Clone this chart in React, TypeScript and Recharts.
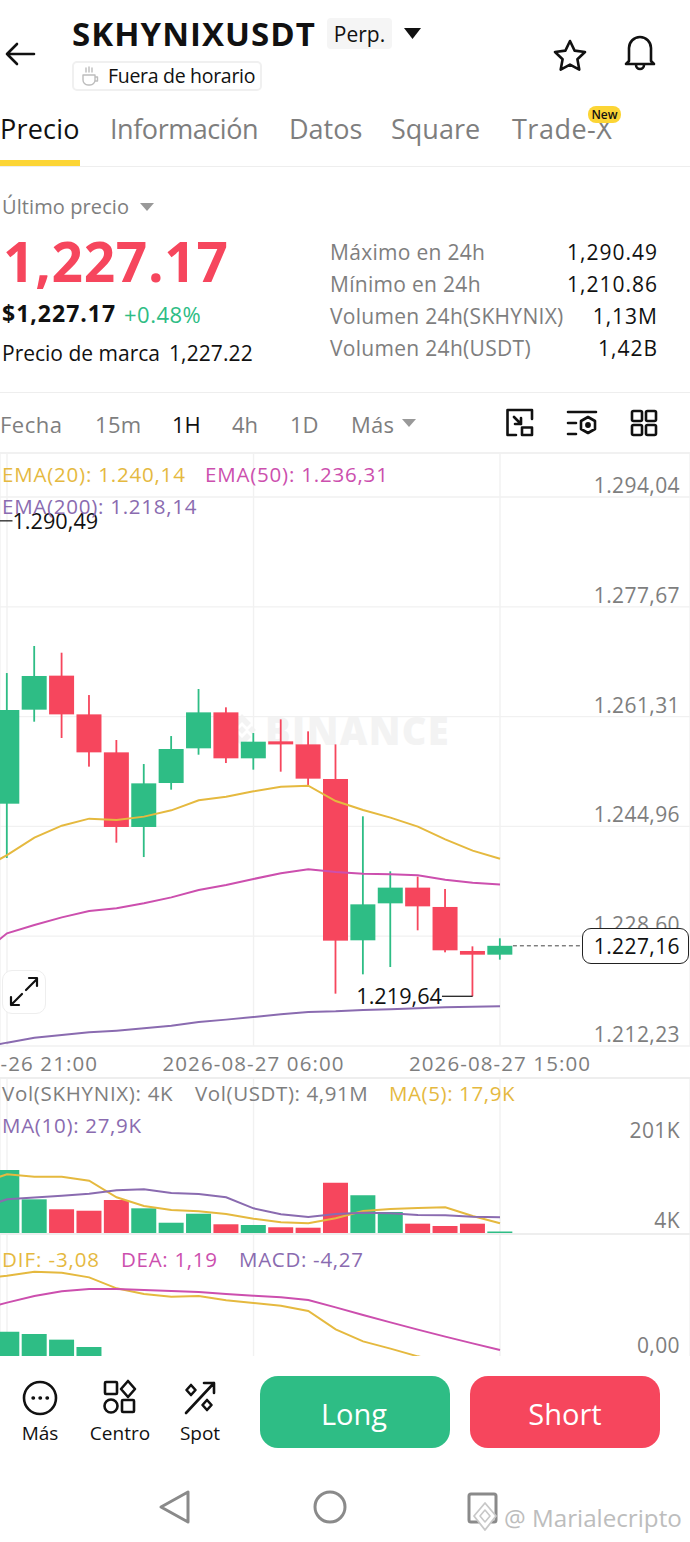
// App.tsx - SKHYNIXUSDT perp screen, candlesticks with volume and MACD panels
import React from "react";
import {
  Bar,
  CartesianGrid,
  Cell,
  ComposedChart,
  Line,
  ReferenceLine,
  XAxis,
  YAxis,
} from "recharts";

// first row sits just off the left edge of the screen
const hours = [
  "2026-08-26 20:00", "2026-08-26 21:00", "2026-08-26 22:00", "2026-08-26 23:00", "2026-08-27 00:00",
  "2026-08-27 01:00", "2026-08-27 02:00", "2026-08-27 03:00", "2026-08-27 04:00", "2026-08-27 05:00",
  "2026-08-27 06:00", "2026-08-27 07:00", "2026-08-27 08:00", "2026-08-27 09:00", "2026-08-27 10:00",
  "2026-08-27 11:00", "2026-08-27 12:00", "2026-08-27 13:00", "2026-08-27 14:00", "2026-08-27 15:00",
];
const opens = [1256, 1248.34, 1262.35, 1267.42, 1261.65, 1255.99, 1244.87, 1251.42, 1256.59, 1261.95, 1255.1, 1257.63, 1257.18, 1252.02, 1227.98, 1233.49, 1235.83, 1232.95, 1226.39, 1225.84];
const closes = [1248.3, 1262.3, 1267.37, 1261.65, 1255.99, 1244.87, 1251.37, 1256.49, 1261.95, 1255.1, 1257.58, 1257.18, 1252.07, 1227.93, 1233.34, 1235.83, 1233.04, 1226.49, 1225.84, 1227.16];
const highs = [1290.49, 1267.81, 1271.84, 1270.84, 1264.53, 1257.83, 1254.25, 1258.42, 1265.43, 1262.7, 1258.87, 1260.91, 1259.12, 1257.18, 1246.46, 1238.26, 1237.47, 1235.63, 1227.08, 1228.28];
const lows = [1244, 1240.25, 1260.56, 1258.13, 1253.86, 1242.53, 1240.39, 1250.43, 1255.64, 1254.4, 1253.41, 1253.11, 1251.02, 1220.03, 1222.91, 1224, 1229.47, 1226.19, 1219.64, 1225.1];
const ema20 = [1238.36, 1240.69, 1243.28, 1245.06, 1246.11, 1245.91, 1246.41, 1247.35, 1248.84, 1249.38, 1250.18, 1250.88, 1251.02, 1248.74, 1247.4, 1246.26, 1244.92, 1243.03, 1241.34, 1240.14];
const ema50 = [1225.7, 1229.02, 1230.26, 1231.4, 1232.35, 1232.75, 1233.49, 1234.38, 1235.48, 1236.22, 1237.12, 1237.96, 1238.56, 1238.16, 1237.91, 1237.81, 1237.66, 1237.02, 1236.57, 1236.31];
const ema200 = [1211.88, 1212.73, 1213.47, 1213.87, 1214.27, 1214.52, 1214.86, 1215.26, 1215.81, 1216.16, 1216.55, 1216.95, 1217.3, 1217.4, 1217.6, 1217.7, 1217.85, 1217.99, 1218.09, 1218.14];

const volumes = [100, 106.7, 57.8, 41.2, 38.8, 56.7, 42.8, 18.8, 33.8, 16.2, 15, 11.2, 10.5, 85.5, 64.5, 36.7, 17.2, 13.3, 17.2, 4];
const ma5 = [84.4, 99.5, 95.5, 95.5, 88.8, 61.2, 46.7, 40, 37.8, 33.3, 25.5, 19.5, 17.8, 26.2, 38.3, 41.7, 43.3, 44.5, 30, 17.9];
const ma10 = [42.8, 57.8, 61, 63.9, 67, 72.8, 74.4, 68.3, 66.7, 61.1, 42.8, 32.8, 28.3, 33.3, 35.6, 34.4, 31.7, 31.1, 28.9, 27.9];

const dif = [15.47, 16.07, 16.87, 16.67, 15.73, 13.53, 12.4, 11.87, 12, 11.13, 10.6, 10.07, 9, 5.33, 2.93, 1.47, -0.07, -1.3, -2.3, -3.08];
const dea = [9.2, 10.67, 12, 12.93, 13.4, 13.4, 13.2, 13, 12.8, 12.4, 12.07, 11.73, 11.2, 9.73, 8.2, 6.73, 5.27, 3.87, 2.53, 1.19];
const macd = [5.8, 4.87, 4.4, 3.27, 1.8, -0.1, -0.8, -1.13, -0.8, -1.27, -1.47, -1.66, -2.2, -4.4, -5.27, -5.26, -5.34, -5.17, -4.83, -4.27];

const priceTicks = [1294.04, 1277.67, 1261.31, 1244.96, 1228.6, 1212.23];
const timeTicks = [0, 9, 18];
const volumeTicks = [4, 201];
const macdTicks = [0];

const GREEN = "#2EBD85";
const RED = "#F6465D";
const YELLOW = "#E5B93F";
const PINK = "#CC4FAE";
const PURPLE = "#8A6BB0";
const GRAY = "#7E7E7E";
const GRID = "#F1F1F1";
const FONT = "'Open Sans', sans-serif";
const X_DOMAIN = [-0.2556, 24.936];

const rows = hours.map((hour, i) => ({
  idx: i - 1,
  hour,
  open: opens[i],
  close: closes[i],
  high: highs[i],
  low: lows[i],
  range: [lows[i], highs[i]],
  ema20: ema20[i],
  ema50: ema50[i],
  ema200: ema200[i],
  volume: volumes[i],
  ma5: ma5[i],
  ma10: ma10[i],
  dif: dif[i],
  dea: dea[i],
  macd: macd[i],
}));

const es = (v: number) =>
  v.toLocaleString("es-ES", { minimumFractionDigits: 2, maximumFractionDigits: 2, useGrouping: "always" } as any);

// wick + body, price to pixel comes from the y/height recharts gives the range
function Candle(props: any) {
  const { x, y, width, height, payload } = props;
  const { open, close, high, low } = payload;
  const toY = (p: number) => y + ((high - p) / (high - low)) * height;
  const color = close >= open ? GREEN : RED;
  const top = toY(Math.max(open, close));
  const bottom = toY(Math.min(open, close));
  const mid = x + width / 2;
  return (
    <g>
      <rect x={mid - 0.9} y={y} width={1.8} height={height} fill={color} />
      <rect x={x} y={top} width={width} height={Math.max(bottom - top, 1)} fill={color} />
    </g>
  );
}

const axisTick = (format: (v: number) => string, dyFor: (v: number) => number) => (props: any) => {
  const v = props.payload.value;
  return (
    <text x={680} y={props.y + dyFor(v)} textAnchor="end" dominantBaseline="central" fill={GRAY} fontSize={21} fontFamily={FONT} letterSpacing={0.4}>
      {format(v)}
    </text>
  );
};

const TimeTick = (props: any) => (
  <text x={props.x} y={props.y + 9} textAnchor="middle" dominantBaseline="central" fill={GRAY} fontSize={20.5} fontFamily={FONT} letterSpacing={1.1}>
    {hours[props.payload.value + 1]}
  </text>
);

function T({ x, y, size, color = "#111", weight = 400, right, center, spacing = 0, children }: any) {
  const style: React.CSSProperties = {
    position: "absolute",
    top: y,
    fontSize: size,
    color,
    fontWeight: weight,
    letterSpacing: spacing,
    whiteSpace: "nowrap",
    lineHeight: 1,
    transform: center ? "translate(-50%,-50%)" : "translateY(-50%)",
  };
  if (right) style.right = 690 - x;
  else style.left = x;
  return <span style={style}>{children}</span>;
}

const Box = ({ x, y, w, h, ...rest }: any) => (
  <div style={{ position: "absolute", left: x, top: y, width: w, height: h, boxSizing: "border-box", ...rest }} />
);

const Icon = ({ x, y, w = 40, h = 40, children }: any) => (
  <svg style={{ position: "absolute", left: x, top: y }} width={w} height={h} viewBox={`0 0 ${w} ${h}`} fill="none" stroke="#111" strokeWidth={2.6} strokeLinejoin="round" strokeLinecap="round">
    {children}
  </svg>
);

function Header() {
  return (
    <>
      <Icon x={2} y={36}>
        <path d="M32 18H5M15 8L5 18l10 10" />
      </Icon>
      <T x={72} y={33} size={33} weight={700} spacing={1.05}>SKHYNIXUSDT</T>
      <Box x={327} y={18} w={65} h={31} background="#F5F5F5" borderRadius={4} />
      <T x={359.5} y={34} size={21} center>Perp.</T>
      <Icon x={400} y={24} w={24} h={20}>
        <path d="M4 4h17l-8.5 11z" fill="#111" stroke="none" />
      </Icon>
      <Box x={72} y={61} w={190} h={30} border="2px solid #F0F0F0" borderRadius={5} />
      <Icon x={78} y={64} w={24} h={24}>
        <path d="M5 11h12v5a5 5 0 0 1-5 5h-2a5 5 0 0 1-5-5zM17 13h2.5v4H17M8 8V4M11 8V3M14 8V4" stroke="#BDBDBD" strokeWidth={1.4} />
      </Icon>
      <T x={108} y={76} size={19.5} spacing={-0.3}>Fuera de horario</T>
      <Icon x={550} y={36}>
        <path d="M20 5l4.6 9.6 10.4 1.4-7.6 7.2 1.9 10.4L20 28.6l-9.3 5 1.9-10.4L5 16l10.4-1.4z" />
      </Icon>
      <Icon x={620} y={33}>
        <path d="M9 28V15a11 11 0 0 1 22 0v13l3 3H6zM16 32a4 4 0 0 0 8 0" />
      </Icon>

      <T x={0} y={128} size={27} weight={500} spacing={0.2}>Precio</T>
      <T x={110} y={128} size={27} weight={500} spacing={-0.45} color={GRAY}>Información</T>
      <T x={289} y={128} size={27} weight={500} color={GRAY}>Datos</T>
      <T x={391} y={128} size={27} weight={500} color={GRAY}>Square</T>
      <T x={512} y={128} size={27} weight={500} spacing={0.5} color={GRAY}>Trade-X</T>
      <Box x={588} y={106} w={33} h={17} background="#FCD535" borderRadius={8} />
      <T x={604.5} y={115} size={12} center weight={600}>New</T>
      <Box x={0} y={160} w={80} h={6} background="#FCD535" />
      <Box x={0} y={166} w={690} h={1} background="#EEEEEE" />

      <T x={2} y={207} size={20} spacing={0.1} color={GRAY}>Último precio</T>
      <Icon x={138} y={200} w={18} h={14}>
        <path d="M2 3h14l-7 8z" fill="#999" stroke="none" />
      </Icon>
      <T x={3} y={260} size={55} weight={700} spacing={0.7} color={RED}>1,227.17</T>
      <T x={2} y={313} size={23} weight={700} spacing={1}>$1,227.17</T>
      <T x={124} y={314} size={22} spacing={0.5} color={GREEN}>+0.48%</T>
      <T x={2} y={353} size={21}>Precio de marca</T>
      <T x={169} y={353} size={21} spacing={0.1}>1,227.22</T>

      {[["Máximo en 24h", "1,290.49", 252], ["Mínimo en 24h", "1,210.86", 284], ["Volumen 24h(SKHYNIX)", "1,13M", 316], ["Volumen 24h(USDT)", "1,42B", 348]].map(([label, value, y]) => (
        <React.Fragment key={label as string}>
          <T x={330} y={y} size={21} spacing={0.3} color={GRAY}>{label}</T>
          <T x={658} y={y} size={21} spacing={1} right>{value}</T>
        </React.Fragment>
      ))}
      <Box x={0} y={392} w={690} h={1} background="#EEEEEE" />

      <T x={0} y={424} size={22} spacing={0.5} color={GRAY}>Fecha</T>
      <T x={95} y={424} size={22} spacing={0.3} color={GRAY}>15m</T>
      <T x={172} y={424} size={22} weight={500}>1H</T>
      <T x={232} y={424} size={22} color={GRAY}>4h</T>
      <T x={290} y={424} size={22} color={GRAY}>1D</T>
      <T x={351} y={424} size={22} spacing={0.3} color={GRAY}>Más</T>
      <Icon x={400} y={416} w={18} h={14}>
        <path d="M2 3h14l-7 8z" fill="#999" stroke="none" />
      </Icon>
      <Icon x={505} y={408} w={30} h={30}>
        <path d="M11 27H2.5V2H27V11M17 19.5h10V27H17zM9 9l7 7M16 10v6h-6" />
      </Icon>
      <Icon x={566} y={408} w={32} h={30}>
        <path d="M2 4h28M2 15h8M2 26h8M22 9l7 4v8l-7 4-7-4v-8z" />
        <circle cx={22} cy={17} r={1.6} fill="#111" />
      </Icon>
      <Icon x={629} y={408} w={30} h={30}>
        <rect x={3} y={3} width={10} height={10} rx={1.5} />
        <rect x={17} y={3} width={10} height={10} rx={1.5} />
        <rect x={3} y={17} width={10} height={10} rx={1.5} />
        <rect x={17} y={17} width={10} height={10} rx={1.5} />
      </Icon>
      <Box x={0} y={452} w={690} h={2} background={GRID} />
    </>
  );
}

function Footer() {
  return (
    <>
      <Box x={0} y={1356} w={690} h={186} background="#FFF" />
      <Icon x={20} y={1378}>
        <circle cx={20} cy={20} r={16} />
        <path d="M13 20h.5M20 20h.5M27 20h.5" strokeWidth={3.4} />
      </Icon>
      <T x={40} y={1433} size={19} center>Más</T>
      <Icon x={100} y={1378}>
        <rect x={5} y={4} width={12} height={12} rx={1} />
        <path d="M28 3l7 8-7 8-7-8z" />
        <circle cx={11} cy={28} r={6.5} />
        <rect x={22} y={22} width={12} height={12} rx={1} />
      </Icon>
      <T x={120} y={1433} size={19} center>Centro</T>
      <Icon x={180} y={1378}>
        <path d="M6 35L34 5M24 5h10v10M11 7l4.5 5-4.5 5-4.5-5zM27 22l4.5 5-4.5 5-4.5-5z" />
      </Icon>
      <T x={200} y={1433} size={19} center>Spot</T>

      <Box x={260} y={1376} w={190} h={72} background={GREEN} borderRadius={18} />
      <T x={354} y={1413} size={29} weight={500} color="#FFF" center>Long</T>
      <Box x={470} y={1376} w={190} h={72} background={RED} borderRadius={18} />
      <T x={565} y={1413} size={29} weight={500} color="#FFF" center>Short</T>

      <Icon x={156} y={1487}>
        <path d="M32 5v30L5 20z" stroke="#8A8A8A" strokeWidth={3} />
      </Icon>
      <Icon x={310} y={1487}>
        <circle cx={20} cy={20} r={15} stroke="#8A8A8A" strokeWidth={3} />
      </Icon>
      <Icon x={462} y={1487} w={40} h={40}>
        <rect x={7} y={7} width={27} height={28} rx={2} stroke="#8A8A8A" strokeWidth={3} />
      </Icon>
      <Icon x={472} y={1500} w={30} h={34}>
        <path d="M13 3l11 13-11 14L2 16z" stroke="#C8C8C8" strokeWidth={1.8} fill="#FFF" />
        <path d="M13 10l5 6-5 6-5-6z" stroke="#C8C8C8" strokeWidth={1.6} />
      </Icon>
      <T x={504} y={1518} size={24.2} color="#BDBDBD">@ Marialecripto</T>
    </>
  );
}

function PriceChart() {
  return (
    <div style={{ position: "absolute", left: 0, top: 453 }}>
      <ComposedChart width={690} height={624} data={rows} margin={{ top: 0, right: 0, bottom: 0, left: 0 }}>
        <CartesianGrid stroke={GRID} strokeWidth={1.4} />
        <XAxis
          dataKey="idx"
          type="number"
          domain={X_DOMAIN}
          allowDataOverflow
          ticks={timeTicks}
          height={31}
          axisLine={false}
          tickLine={false}
          interval={0}
          tick={TimeTick}
        />
        <YAxis
          orientation="right"
          mirror
          width={100}
          domain={[1212.23, 1300.6]}
          allowDataOverflow
          ticks={priceTicks}
          interval={0}
          axisLine={false}
          tickLine={false}
          tick={axisTick(es, () => -12)}
        />
        <Bar dataKey="range" barSize={25} shape={Candle} isAnimationActive={false} />
        <Line dataKey="ema20" stroke={YELLOW} strokeWidth={2} dot={false} isAnimationActive={false} />
        <Line dataKey="ema50" stroke={PINK} strokeWidth={2} dot={false} isAnimationActive={false} />
        <Line dataKey="ema200" stroke={PURPLE} strokeWidth={2} dot={false} isAnimationActive={false} />
        <ReferenceLine
          segment={[{ x: 15.88, y: lows[18] }, { x: 17, y: lows[18] }]}
          stroke="#111"
          strokeWidth={1.2}
          label={{ value: es(lows[18]), position: "left", offset: 0, fill: "#111", fontSize: 21.7, fontFamily: FONT }}
        />
        <ReferenceLine
          segment={[{ x: X_DOMAIN[0], y: highs[0] }, { x: 0.2, y: highs[0] }]}
          stroke="#111"
          strokeWidth={1.2}
          label={{ value: es(highs[0]), position: "right", offset: 0, fill: "#111", fontSize: 21.7, fontFamily: FONT }}
        />
        <ReferenceLine
          segment={[{ x: 18.47, y: closes[19] }, { x: 21, y: closes[19] }]}
          stroke="#444"
          strokeWidth={1}
          strokeDasharray="4 3"
        />
      </ComposedChart>
    </div>
  );
}

function VolumeChart() {
  return (
    <div style={{ position: "absolute", left: 0, top: 1078 }}>
      <ComposedChart width={690} height={156} data={rows} margin={{ top: 0, right: 0, bottom: 0, left: 0 }}>
        <CartesianGrid stroke={GRID} strokeWidth={1.4} horizontal={false} />
        <XAxis dataKey="idx" type="number" domain={X_DOMAIN} allowDataOverflow ticks={timeTicks} hide />
        <YAxis
          orientation="right"
          mirror
          width={100}
          domain={[0, 260]}
          ticks={volumeTicks}
          interval={0}
          axisLine={false}
          tickLine={false}
          tick={axisTick((v) => `${v}K`, (v) => (v === 201 ? 17 : -12))}
        />
        <Bar dataKey="volume" barSize={25} isAnimationActive={false}>
          {rows.map((r) => (
            <Cell key={r.idx} fill={r.close >= r.open ? GREEN : RED} />
          ))}
        </Bar>
        <Line dataKey="ma5" stroke={YELLOW} strokeWidth={2} dot={false} isAnimationActive={false} />
        <Line dataKey="ma10" stroke={PURPLE} strokeWidth={2} dot={false} isAnimationActive={false} />
      </ComposedChart>
    </div>
  );
}

function MacdChart() {
  return (
    <div style={{ position: "absolute", left: 0, top: 1234 }}>
      <ComposedChart width={690} height={122} data={rows} margin={{ top: 0, right: 0, bottom: 0, left: 0 }}>
        <CartesianGrid stroke={GRID} strokeWidth={1.4} horizontal={false} />
        <XAxis dataKey="idx" type="number" domain={X_DOMAIN} allowDataOverflow ticks={timeTicks} hide />
        <YAxis
          orientation="right"
          mirror
          width={100}
          domain={[0, 24.4]}
          allowDataOverflow
          ticks={macdTicks}
          interval={0}
          axisLine={false}
          tickLine={false}
          tick={axisTick(es, () => -11)}
        />
        <Bar dataKey="macd" barSize={25} isAnimationActive={false}>
          {rows.map((r) => (
            <Cell key={r.idx} fill={r.macd >= 0 ? GREEN : RED} />
          ))}
        </Bar>
        <Line dataKey="dif" stroke={YELLOW} strokeWidth={2} dot={false} isAnimationActive={false} />
        <Line dataKey="dea" stroke={PINK} strokeWidth={2} dot={false} isAnimationActive={false} />
      </ComposedChart>
    </div>
  );
}

export default function App() {
  return (
    <div style={{ position: "absolute", left: 0, top: 0, width: 690, height: 1542, overflow: "hidden", background: "#FFF", fontFamily: FONT }}>
      {/* watermark goes under the chart */}
      <T x={265} y={730} size={38} weight={800} color="#F3F3F3" spacing={1.4}>BINANCE</T>
      <Icon x={222} y={710}>
        <path d="M20 4l9 9-4 4-5-5-5 5-4-4zM20 36l-9-9 4-4 5 5 5-5 4 4zM6 20l4-4 4 4-4 4zM26 20l4-4 4 4-4 4zM16 20l4-4 4 4-4 4z" fill="#F3F3F3" stroke="none" />
      </Icon>

      <PriceChart />
      <VolumeChart />
      <MacdChart />

      <Box x={0} y={1077} w={690} h={1.5} background="#EEEEEE" />
      <Box x={0} y={1233} w={690} h={1.5} background="#EEEEEE" />

      <T x={2} y={474} size={20.5} color={YELLOW} spacing={0.8}>EMA(20): 1.240,14</T>
      <T x={205} y={474} size={20.5} color={PINK} spacing={0.8}>EMA(50): 1.236,31</T>
      <T x={2} y={506} size={20.5} color={PURPLE} spacing={0.75}>EMA(200): 1.218,14</T>

      <T x={2} y={1093} size={20.5} color={GRAY} spacing={0.7}>Vol(SKHYNIX): 4K</T>
      <T x={195} y={1093} size={20.5} color={GRAY} spacing={0.6}>Vol(USDT): 4,91M</T>
      <T x={389} y={1093} size={20.5} color={YELLOW} spacing={0.6}>MA(5): 17,9K</T>
      <T x={2} y={1125} size={20.5} color={PURPLE} spacing={0.7}>MA(10): 27,9K</T>

      <T x={2} y={1259} size={20.5} color={YELLOW} spacing={0.9}>DIF: -3,08</T>
      <T x={121} y={1259} size={20.5} color={PINK} spacing={0.7}>DEA: 1,19</T>
      <T x={239} y={1259} size={20.5} color={PURPLE} spacing={0.7}>MACD: -4,27</T>

      {/* expand button */}
      <Box x={2} y={970} w={44} h={44} background="#FFF" border="1.5px solid #EEE" borderRadius={10} />
      <Icon x={4} y={972}>
        <path d="M22 18l11-11M25 6h8v8M18 22L7 33M7 25v8h8" strokeWidth={2.2} />
      </Icon>

      {/* last price tag */}
      <Box x={582} y={928} w={107} h={36} background="#FFF" border="1.2px solid #222" borderRadius={9} />
      <T x={680} y={946} size={21} right spacing={0.4}>1.227,16</T>

      <Header />
      <Footer />
    </div>
  );
}
